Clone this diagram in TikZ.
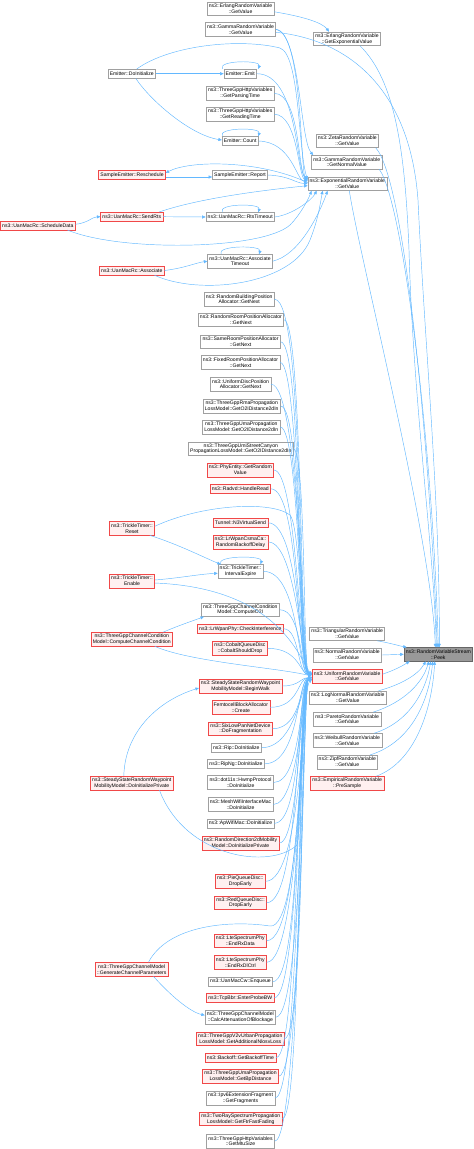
\documentclass[tikz,border=0pt]{standalone}
\usepackage{fontspec}
\setmainfont{Liberation Sans}
\usetikzlibrary{arrows.meta}
\definecolor{edgec}{HTML}{63B8FF}
\definecolor{grayline}{HTML}{A0A0A0}
\definecolor{redline}{HTML}{F04848}
\definecolor{redfill}{HTML}{FFF0F0}
\definecolor{curfill}{HTML}{999999}
\definecolor{curline}{HTML}{666666}
\newcommand\gsz{\fontsize{5.1}{5.9}\selectfont}
\newcommand\bundle[4]{\draw[edge] (#1.east) .. controls (#1.east -| #2) and (#3 -| #4) .. (#3);}
\newcommand\selfloop[2]{\draw[edge] ([xshift=-#2]#1.north) .. controls +(-5,-9) and +(3,-9) .. ([xshift=#2]#1.north);}
\tikzset{
 box/.style={draw=grayline, fill=white, font=\gsz, align=center, inner xsep=1.8pt, inner ysep=0.8pt, line width=0.45pt, minimum height=9pt},
 two/.style={minimum height=13.6pt},
 rbox/.style={box, draw=redline, fill=redfill},
 cbox/.style={box, draw=curline, fill=curfill},
 edge/.style={draw=edgec, line width=0.45pt, -{Triangle[length=3.5pt,width=3pt]}},
}
\begin{document}
\begin{tikzpicture}[x=1pt,y=-1pt]
\useasboundingbox (0,0) rectangle (474,1149);
% ---------- upper group ----------
\node[box,two] (erl) at (240.5,8.8) {ns3::ErlangRandomVariable\\::GetValue};
\node[box,two] (gam) at (240.5,29.3) {ns3::GammaRandomVariable\\::GetValue};
\node[box,two] (erlx) at (347,38.8) {ns3::ErlangRandomVariable\\::GetExponentialValue};
\node[box] (edi) at (131.8,73.7) {Emitter::DoInitialize};
\node[box] (emit) at (240.3,73.7) {Emitter::Emit};
\node[box,two] (hpt) at (240.2,93.3) {ns3::ThreeGppHttpVariables\\::GetParsingTime};
\node[box,two] (hrt) at (240.2,114.2) {ns3::ThreeGppHttpVariables\\::GetReadingTime};
\node[box] (cnt) at (240.2,141) {Emitter::Count};
\node[box,two] (zeta) at (347.3,140.8) {ns3::ZetaRandomVariable\\::GetValue};
\node[box,two] (gnv) at (346.7,162.2) {ns3::GammaRandomVariable\\::GetNormalValue};
\node[box,two] (X) at (347.3,183.7) {ns3::ExponentialRandomVariable\\::GetValue};
\node[rbox] (rsch) at (132,175) {SampleEmitter::Reschedule};
\node[box] (rep) at (240,175) {SampleEmitter::Report};
\node[rbox] (srts) at (131.8,216.7) {ns3::UanMacRc::SendRts};
\node[rbox] (sdat) at (37.8,225.3) {ns3::UanMacRc::ScheduleData};
\node[box] (rtst) at (240.2,217) {ns3::UanMacRc::RtsTimeout};
\node[rbox] (asc) at (131.8,270.5) {ns3::UanMacRc::Associate};
\node[box,two] (asct) at (240,261.2) {ns3::UanMacRc::Associate\\Timeout};
% ---------- lower group ----------
\node[box,two] (rbp) at (239.2,299.2) {ns3::RandomBuildingPosition\\Allocator::GetNext};
\node[box,two] (rrp) at (240.9,319.7) {ns3::RandomRoomPositionAllocator\\::GetNext};
\node[box,two] (srp) at (240.5,341.7) {ns3::SameRoomPositionAllocator\\::GetNext};
\node[box,two] (frp) at (240.5,362.3) {ns3::FixedRoomPositionAllocator\\::GetNext};
\node[box,two] (udp) at (240.5,384.2) {ns3::UniformDiscPosition\\Allocator::GetNext};
\node[box,two] (rma) at (241.7,406) {ns3::ThreeGppRmaPropagation\\LossModel::GetO2IDistance2dIn};
\node[box,two] (uma) at (241.3,427) {ns3::ThreeGppUmaPropagation\\LossModel::GetO2IDistance2dIn};
\node[box,two] (umi) at (240.8,448.7) {ns3::ThreeGppUmiStreetCanyon\\PropagationLossModel::GetO2IDistance2dIn};
\node[rbox,two] (phy) at (240.3,470) {ns3::PhyEntity::GetRandom\\Value};
\node[rbox] (radvd) at (240.3,488.8) {ns3::Radvd::HandleRead};
\node[rbox,two] (trst) at (132,528.3) {ns3::TrickleTimer::\\Reset};
\node[rbox] (tun) at (240.5,522.8) {Tunnel::N3VirtualSend};
\node[rbox,two] (csma) at (240.5,542) {ns3::LrWpanCsmaCa::\\RandomBackoffDelay};
\node[box,two] (tie) at (240.5,571.3) {ns3::TrickleTimer::\\IntervalExpire};
\node[rbox,two] (ten) at (132,581) {ns3::TrickleTimer::\\Enable};
\node[box,two] (co2i) at (240.3,609.7) {ns3::ThreeGppChannelCondition\\Model::ComputeO2I};
\node[rbox] (lrphy) at (240.3,628.7) {ns3::LrWpanPhy::CheckInterference};
\node[rbox,two] (ccc) at (131.8,639.3) {ns3::ThreeGppChannelCondition\\Model::ComputeChannelCondition};
\node[rbox,two] (cob) at (240,648.3) {ns3::CobaltQueueDisc\\::CobaltShouldDrop};
\node[box,two] (tri) at (347.2,633.7) {ns3::TriangularRandomVariable\\::GetValue};
\node[box,two] (nrm) at (347.2,655) {ns3::NormalRandomVariable\\::GetValue};
\node[cbox,two] (P) at (438.3,654.3) {ns3::RandomVariableStream\\::Peek};
\node[rbox,two] (U) at (347.2,676.2) {ns3::UniformRandomVariable\\::GetValue};
\node[rbox,two] (bw) at (240.5,686) {ns3::SteadyStateRandomWaypoint\\MobilityModel::BeginWalk};
\node[rbox,two] (fem) at (240.8,707.3) {FemtocellBlockAllocator\\::Create};
\node[rbox,two] (six) at (240.5,728.7) {ns3::SixLowPanNetDevice\\::DoFragmentation};
\node[box] (rip) at (236.3,747.7) {ns3::Rip::DoInitialize};
\node[box] (ripng) at (236,763.8) {ns3::RipNg::DoInitialize};
\node[box,two] (hwmp) at (240.5,782.5) {ns3::dot11s::HwmpProtocol\\::DoInitialize};
\node[box,two] (mesh) at (240.5,804.5) {ns3::MeshWifiInterfaceMac\\::DoInitialize};
\node[box] (ap) at (240.5,823.3) {ns3::ApWifiMac::DoInitialize};
\node[rbox,two] (rd2) at (240.5,843) {ns3::RandomDirection2dMobility\\Model::DoInitializePrivate};
\node[rbox,two] (ssdi) at (131.8,783) {ns3::SteadyStateRandomWaypoint\\MobilityModel::DoInitializePrivate};
\node[box,two] (ln) at (347.7,697.8) {ns3::LogNormalRandomVariable\\::GetValue};
\node[box,two] (par) at (347.2,719.2) {ns3::ParetoRandomVariable\\::GetValue};
\node[box,two] (wei) at (347.3,740.3) {ns3::WeibullRandomVariable\\::GetValue};
\node[box,two] (zipf) at (347.3,762) {ns3::ZipfRandomVariable\\::GetValue};
\node[rbox,two] (emp) at (347.2,783.3) {ns3::EmpiricalRandomVariable\\::PreSample};
\node[rbox,two] (pie) at (240.3,881.3) {ns3::PieQueueDisc::\\DropEarly};
\node[rbox,two] (rqd) at (240.5,902.7) {ns3::RedQueueDisc::\\DropEarly};
\node[rbox,two] (lrd) at (240.3,940.7) {ns3::LteSpectrumPhy\\::EndRxData};
\node[rbox,two] (lrc) at (240.3,962.3) {ns3::LteSpectrumPhy\\::EndRxDlCtrl};
\node[rbox,two] (gcp) at (131.7,969.3) {ns3::ThreeGppChannelModel\\::GenerateChannelParameters};
\node[box] (uancw) at (240.5,981.7) {ns3::UanMacCw::Enqueue};
\node[rbox] (bbr) at (240.3,997.8) {ns3::TcpBbr::EnterProbeBW};
\node[box,two] (cab) at (240.3,1017.2) {ns3::ThreeGppChannelModel\\::CalcAttenuationOfBlockage};
\node[rbox,two] (v2v) at (240.3,1038.7) {ns3::ThreeGppV2vUrbanPropagation\\LossModel::GetAdditionalNlosvLoss};
\node[rbox] (bko) at (240.5,1057.7) {ns3::Backoff::GetBackoffTime};
\node[rbox,two] (ubp) at (240.5,1076.2) {ns3::ThreeGppUmaPropagation\\LossModel::GetBpDistance};
\node[box,two] (ipv6) at (240.5,1098) {ns3::Ipv6ExtensionFragment\\::GetFragments};
\node[rbox,two] (tray) at (240.8,1118.8) {ns3::TwoRaySpectrumPropagation\\LossModel::GetFtrFastFading};
\node[box,two] (mtu) at (240.5,1141.2) {ns3::ThreeGppHttpVariables\\::GetMtuSize};
% ---------- helper coordinates ----------
\coordinate (ba) at (297,0);
\coordinate (bb) at (300,0);
\coordinate (bc) at (303,0);
\coordinate (bd) at (306,0);
\coordinate (UA) at ([yshift=3pt]U.west);
\coordinate (UA2) at ([yshift=1.5pt]U.west);
\coordinate (UB) at ([yshift=-3pt]U.west);
\coordinate (UB2) at ([yshift=-1.5pt]U.west);
% ---------- edges: upper ----------
\draw[edge] ([yshift=-3pt]erl.east) .. controls (300,16) and (322,22) .. ([xshift=-18pt]erlx.north);
\draw[edge] (gam.east) .. controls (300,33) and (300,140) .. ([xshift=2pt]gnv.north west);
\draw[edge] (gam.east) .. controls (303,32) and (300,172) .. ([yshift=3pt]X.west);
\draw[edge] ([yshift=-3pt]gam.east) .. controls (350,40) and (410,90) .. (418,200) .. controls (425,350) and (440,500) .. ([xshift=1pt]P.north);
\draw[edge] ([xshift=13pt]erlx.south) .. controls (395,80) and (405,150) .. (409,250) .. controls (413,400) and (434,550) .. ([xshift=-2pt]P.north);
\draw[edge] ([xshift=-3pt]zeta.south east) .. controls (405,180) and (430,450) .. ([xshift=-1pt]P.north);
\draw[edge] ([xshift=-3pt]gnv.south east) .. controls (403,200) and (433,450) .. (P.north);
\draw[edge] ([xshift=2pt]X.south) .. controls (360,260) and (432,540) .. ([xshift=-3pt]P.north);
\draw[edge] (edi.east) -- (emit.west);
\draw[edge] ([xshift=4pt]edi.south) .. controls (150,100) and (190,135) .. ([yshift=1pt]cnt.west);
\draw[edge] ([xshift=5pt]edi.north) .. controls (170,45) and (240,38) .. (280,48) .. controls (300,55) and (298,150) .. ([yshift=4pt]X.west);
\selfloop{emit}{18pt}
\draw[edge] (emit.east) .. controls (298,74) and (296,170) .. ([yshift=4.5pt]X.west);
\draw[edge] (hpt.east) .. controls (300,94) and (298,172) .. ([yshift=3.5pt]X.west);
\draw[edge] (hrt.east) .. controls (298,115) and (298,176) .. ([yshift=2.5pt]X.west);
\selfloop{cnt}{18pt}
\draw[edge] (cnt.east) .. controls (292,142) and (296,180) .. ([yshift=1.5pt]X.west);
\draw[edge] (rep.east) .. controls (290,176) and (295,183) .. (X.west);
\draw[edge] ([yshift=-2pt]rsch.east) -- ([yshift=-2pt]rep.west);
\draw[edge] ([yshift=1pt]X.west) .. controls (260,160) and (190,160) .. ([yshift=2pt]rsch.east);
\draw[edge] ([yshift=1pt]sdat.east) .. controls (88,223) and (92,217) .. (srts.west);
\draw[edge] (srts.east) -- (rtst.west);
\draw[edge] ([xshift=-4pt]srts.north east) .. controls (200,198) and (265,190) .. ([yshift=-2pt]X.west);
\draw[edge] ([xshift=-8pt]sdat.south east) .. controls (120,252) and (262,250) .. (290,225) .. controls (300,215) and (308,200) .. ([xshift=4pt]X.south west);
\selfloop{rtst}{18pt}
\draw[edge] (rtst.east) .. controls (292,215) and (312,200) .. ([xshift=9pt]X.south west);
\draw[edge] (asc.east) .. controls (185,268) and (195,263) .. (asct.west);
\draw[edge] ([xshift=-10pt]asc.south east) .. controls (200,296) and (292,285) .. (310,240) .. controls (318,220) and (320,205) .. ([xshift=15pt]X.south west);
\selfloop{asct}{19pt}
\draw[edge] (asct.east) .. controls (300,255) and (320,212) .. ([xshift=20pt]X.south west);
% ---------- edges: bundle into Uniform ----------
\bundle{rbp}{bd}{UA}{ba}
\bundle{rrp}{bc}{UA}{bb}
\bundle{srp}{bc}{UA}{ba}
\bundle{frp}{bb}{UA}{bb}
\bundle{udp}{bb}{UA}{bc}
\bundle{rma}{bc}{UA}{ba}
\bundle{uma}{bb}{UA}{bb}
\bundle{umi}{bd}{UA}{bc}
\bundle{phy}{ba}{UA}{bb}
\bundle{radvd}{bb}{UA}{ba}
\bundle{tun}{bb}{UA2}{bb}
\bundle{csma}{ba}{UA2}{bc}
\bundle{tie}{bb}{UA2}{ba}
\bundle{co2i}{bc}{UA2}{bb}
\bundle{lrphy}{bb}{UA2}{ba}
\bundle{cob}{bb}{UA2}{bb}
\draw[edge] ([xshift=-5pt]trst.south east) .. controls (180,545) and (205,558) .. ([xshift=3pt]tie.north west);
\draw[edge] ([yshift=2pt]trst.east) .. controls (200,505) and (270,500) .. (290,515) .. controls (302,530) and (300,673) .. (UA);
\selfloop{tie}{20pt}
\draw[edge] ([yshift=1pt]ten.east) .. controls (180,578) and (200,574) .. ([yshift=-2pt]tie.west);
\draw[edge] ([yshift=-2pt]ten.east) .. controls (280,588) and (300,660) .. (UA2);
\draw[edge] ([xshift=-10pt]ccc.north east) .. controls (180,625) and (195,620) .. ([xshift=3pt]co2i.south west);
\draw[edge] ([xshift=-18pt]ccc.south east) .. controls (190,662) and (280,668) .. (U.west);
\bundle{bw}{bb}{UB2}{bb}
\bundle{fem}{bb}{UB2}{ba}
\bundle{six}{bc}{UB2}{bb}
\bundle{rip}{ba}{UB2}{bc}
\bundle{ripng}{bb}{UB2}{ba}
\bundle{hwmp}{bc}{UB}{bb}
\bundle{mesh}{bb}{UB}{bc}
\bundle{ap}{bc}{UB}{ba}
\bundle{rd2}{bb}{UB}{bb}
\bundle{pie}{bc}{UB}{bc}
\bundle{rqd}{bb}{UB}{ba}
\bundle{lrd}{bc}{UB}{bb}
\bundle{lrc}{bb}{UB}{bc}
\bundle{uancw}{bc}{UB}{ba}
\bundle{bbr}{bb}{UB}{bb}
\bundle{cab}{bc}{UB}{bc}
\bundle{v2v}{bd}{UB}{bb}
\bundle{bko}{bb}{UB}{ba}
\bundle{ubp}{bc}{UB}{bc}
\bundle{ipv6}{bb}{UB}{bb}
\bundle{tray}{bc}{UB}{ba}
\bundle{mtu}{bb}{UB}{bc}
\draw[edge] ([xshift=-8pt]ssdi.north) .. controls (125,730) and (160,700) .. ([yshift=-2pt]bw.west);
\draw[edge] ([xshift=-14pt]ssdi.south east) .. controls (185,858) and (270,870) .. (297,845) .. controls (303,820) and (300,680) .. (UB);
\draw[edge] ([xshift=-15pt]gcp.south east) .. controls (170,995) and (190,1012) .. ([yshift=2pt]cab.west);
\draw[edge] ([xshift=-20pt]gcp.north east) .. controls (168,925) and (230,920) .. (270,926) .. controls (302,930) and (301,690) .. (UB);
% ---------- edges: into Peek ----------
\draw[edge] ([xshift=-8pt]tri.south east) .. controls (390,643) and (400,646) .. ([xshift=3pt]P.north west);
\draw[edge] (nrm.east) -- (P.west);
\draw[edge] ([yshift=2pt]U.east) .. controls (395,670) and (402,666) .. ([xshift=6pt]P.south west);
\draw[edge] ([xshift=-8pt]ln.north east) .. controls (400,685) and (418,675) .. ([xshift=22pt]P.south west);
\draw[edge] ([xshift=-8pt]par.north east) .. controls (405,702) and (423,682) .. ([xshift=25pt]P.south west);
\draw[edge] ([xshift=-8pt]wei.north east) .. controls (410,722) and (426,690) .. ([xshift=27pt]P.south west);
\draw[edge] ([xshift=-8pt]zipf.north east) .. controls (412,742) and (429,700) .. ([xshift=29pt]P.south west);
\draw[edge] ([xshift=-8pt]emp.north east) .. controls (415,762) and (432,710) .. ([xshift=31pt]P.south west);
\end{tikzpicture}
\end{document}
